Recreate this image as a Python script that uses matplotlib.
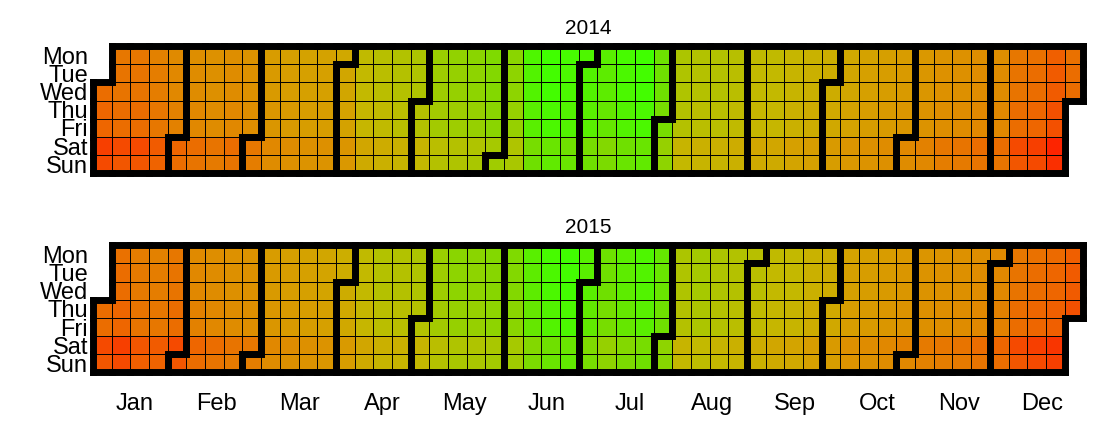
import numpy as np, datetime as dt
import matplotlib
matplotlib.use("Agg")
import matplotlib.pyplot as plt
from matplotlib.colors import LinearSegmentedColormap
from matplotlib.collections import LineCollection

plt.rcParams['font.family'] = ['Liberation Sans', 'DejaVu Sans']
years = [2014, 2015]
weekdays = ["Mon", "Tue", "Wed", "Thu", "Fri", "Sat", "Sun"]
months = ["Jan","Feb","Mar","Apr","May","Jun","Jul","Aug","Sep","Oct","Nov","Dec"]
# estimated weekly level per year (0=red, 1=green)
weekly_2014 = [0.2,0.22,0.22,0.25,0.28, 0.3,0.32,0.3,0.33, 0.38,0.4,0.42,0.42,0.45,
               0.55,0.58,0.6,0.62, 0.68,0.7,0.72,0.75,0.72, 0.88,0.92,0.9,0.88,
               0.85,0.9,0.92,0.8, 0.62,0.6,0.6,0.58,0.55, 0.55,0.52,0.5,0.48,
               0.45,0.42,0.4,0.38, 0.36,0.33,0.32,0.3,0.3, 0.22,0.2,0.15,0.2]
weekly_2015 = [0.22,0.2,0.24,0.25,0.22, 0.28,0.3,0.32,0.33, 0.38,0.4,0.42,0.44,0.48,
               0.55,0.6,0.6,0.62, 0.68,0.72,0.72,0.74,0.75, 0.85,0.9,0.92,0.86,
               0.8,0.85,0.88,0.82, 0.62,0.65,0.62,0.6,0.58, 0.55,0.54,0.5,0.48,
               0.42,0.4,0.38,0.36, 0.34,0.33,0.32,0.3,0.28, 0.22,0.2,0.18,0.15]
weekday_offset = [0.03, 0.02, 0.02, 0.0, 0.0, -0.08, -0.06]
weekly = {2014: weekly_2014, 2015: weekly_2015}

cmap = LinearSegmentedColormap.from_list("cal", ['#ff1a00','#f06000','#e08a00','#d6a000','#c4b800','#a0cc00','#70e000','#40ff00'])

fig, axes = plt.subplots(2, 1, figsize=(11.16, 4.25), dpi=100)
fig.subplots_adjust(left=0.08, right=0.974, top=0.9, bottom=0.115, hspace=0.48)

for ax, yr in zip(axes, years):
    d0 = dt.date(yr, 1, 1)
    ndays = (dt.date(yr+1, 1, 1) - d0).days
    off = d0.weekday()
    ncol = (ndays + off + 6) // 7
    vals = np.full((7, ncol), np.nan)
    mon = np.full((7, ncol), -1)
    for i in range(ndays):
        d = d0 + dt.timedelta(i)
        c = (i + off) // 7; r = d.weekday()
        vals[r, c] = weekly[yr][min(c, 52)] + weekday_offset[r]
        mon[r, c] = d.month
    ax.pcolormesh(np.arange(ncol+1), np.arange(8), np.ma.masked_invalid(vals),
                  cmap=cmap, vmin=0.05, vmax=0.95)
    thin, segs = [], []
    for r in range(7):
        for c in range(ncol):
            m = mon[r, c]
            if m < 0: continue
            thin += [[(c, r), (c, r+1)], [(c+1, r), (c+1, r+1)], [(c, r), (c+1, r)], [(c, r+1), (c+1, r+1)]]
            def other(rr, cc):
                if 0 <= rr < 7 and 0 <= cc < ncol: return mon[rr, cc]
                return -1
            if other(r, c-1) != m: segs.append([(c, r), (c, r+1)])
            if other(r, c+1) != m: segs.append([(c+1, r), (c+1, r+1)])
            if other(r-1, c) != m: segs.append([(c, r), (c+1, r)])
            if other(r+1, c) != m: segs.append([(c, r+1), (c+1, r+1)])
    ax.add_collection(LineCollection(thin, colors='black', linewidths=0.6))
    ax.add_collection(LineCollection(segs, colors='black', linewidths=5, capstyle='projecting'))
    ax.set_xlim(-0.2, ncol+0.2); ax.set_ylim(7.2, -0.2)
    ax.set_yticks(np.arange(7)+0.5); ax.set_yticklabels(weekdays, fontsize=17, linespacing=0.8)
    ax.tick_params(length=0, pad=1)
    for s in ax.spines.values(): s.set_visible(False)
    ax.set_title(str(yr), fontsize=15)
    if yr == years[-1]:
        ax.set_xticks([ncol*(m+0.5)/12 for m in range(12)]); ax.set_xticklabels(months, fontsize=17)
        ax.tick_params(axis='x', pad=12)
    else:
        ax.set_xticks([])
fig.savefig("out.png")
